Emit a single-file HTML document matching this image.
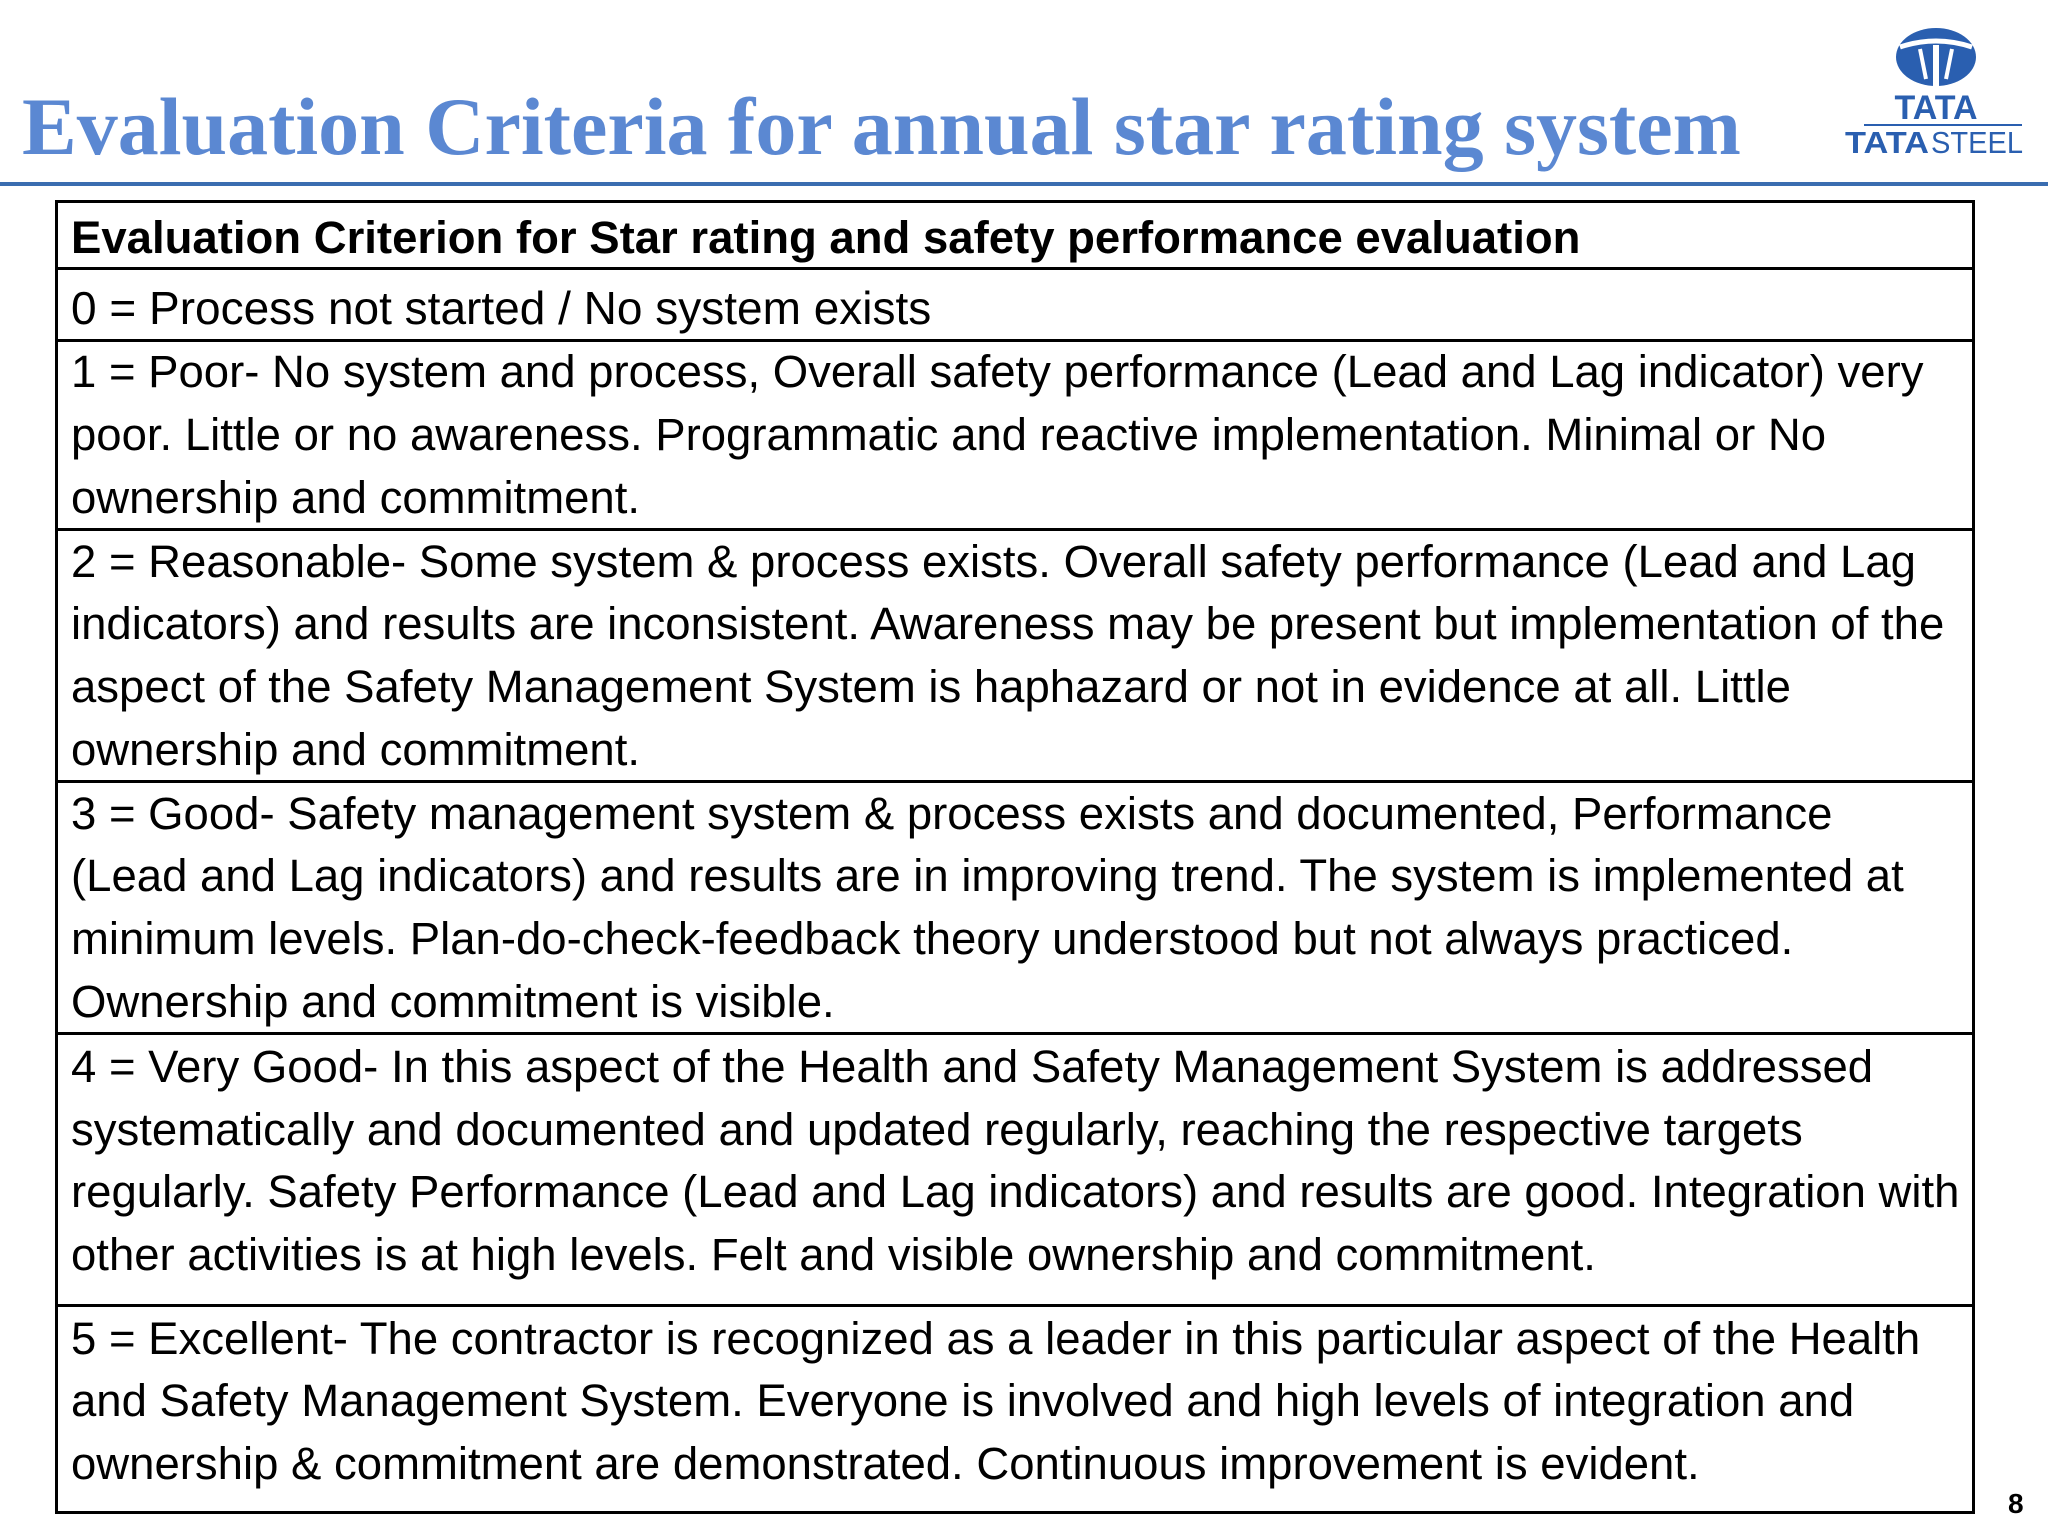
<!DOCTYPE html>
<html><head><meta charset="utf-8"><style>
body{margin:0;width:2048px;height:1536px;background:#fff;position:relative;overflow:hidden;font-family:"Liberation Sans",Arial,sans-serif;}
.t{position:absolute;left:71px;height:62px;line-height:62px;font-size:45.5px;white-space:nowrap;color:#000;}
.h{position:absolute;left:55px;width:1920px;height:3px;background:#000;}
</style></head><body>
<div style="position:absolute;left:22px;top:82px;font-family:'Liberation Serif',serif;font-weight:bold;font-size:82px;line-height:90px;color:#5b88d2;white-space:nowrap;">Evaluation Criteria for annual star rating system</div>
<div style="position:absolute;left:0;top:182px;width:2048px;height:4px;background:#3a6db0;"></div>
<svg style="position:absolute;left:1840px;top:25px" width="190" height="130" viewBox="0 0 190 130">
<ellipse cx="96" cy="32" rx="40" ry="29" fill="#2a5fb0"/>
<path d="M60 22 Q96 10 132 22" stroke="#fff" stroke-width="5" fill="none"/>
<rect x="93" y="20" width="6" height="42" fill="#fff"/>
<path d="M80 24 L86 54 M112 24 L106 54" stroke="#fff" stroke-width="4"/>
<text x="96" y="94" text-anchor="middle" font-family="Liberation Sans" font-weight="bold" font-size="34" fill="#2a5fb0">TATA</text>
<rect x="24" y="99" width="158" height="2" fill="#2a5fb0"/>
<text x="5" y="128" font-family="Liberation Sans" font-weight="bold" font-size="31" fill="#2a5fb0" textLength="84" lengthAdjust="spacingAndGlyphs">TATA</text>
<text x="91" y="128" font-family="Liberation Sans" font-size="31" fill="#2a5fb0" textLength="92" lengthAdjust="spacingAndGlyphs">STEEL</text>
</svg>
<div style="position:absolute;left:55px;top:200px;width:1914px;height:1308px;border:3px solid #000;"></div>
<div class="h" style="top:267px"></div>
<div class="h" style="top:339px"></div>
<div class="h" style="top:528px"></div>
<div class="h" style="top:780px"></div>
<div class="h" style="top:1032px"></div>
<div class="h" style="top:1304px"></div>
<div class="t" style="top:207px;font-weight:bold;">Evaluation Criterion for Star rating and safety performance evaluation</div>
<div class="t" style="top:277px;font-size:46px;">0 = Process not started / No system exists</div>
<div>
<div class="t" style="top:341px">1 = Poor- No system and process, Overall safety performance (Lead and Lag indicator) very</div>
<div class="t" style="top:404px">poor. Little or no awareness. Programmatic and reactive implementation. Minimal or No</div>
<div class="t" style="top:467px">ownership and commitment.</div>
</div>
<div>
<div class="t" style="top:531px">2 = Reasonable- Some system &amp; process exists. Overall safety performance (Lead and Lag</div>
<div class="t" style="top:593px">indicators) and results are inconsistent. Awareness may be present but implementation of the</div>
<div class="t" style="top:656px">aspect of the Safety Management System is haphazard or not in evidence at all. Little</div>
<div class="t" style="top:719px">ownership and commitment.</div>
</div>
<div>
<div class="t" style="top:783px">3 = Good- Safety management system &amp; process exists and documented, Performance</div>
<div class="t" style="top:845px">(Lead and Lag indicators) and results are in improving trend. The system is implemented at</div>
<div class="t" style="top:908px">minimum levels. Plan-do-check-feedback theory understood but not always practiced.</div>
<div class="t" style="top:971px">Ownership and commitment is visible.</div>
</div>
<div>
<div class="t" style="top:1036px">4 = Very Good- In this aspect of the Health and Safety Management System is addressed</div>
<div class="t" style="top:1099px">systematically and documented and updated regularly, reaching the respective targets</div>
<div class="t" style="top:1161px">regularly. Safety Performance (Lead and Lag indicators) and results are good. Integration with</div>
<div class="t" style="top:1224px">other activities is at high levels. Felt and visible ownership and commitment.</div>
</div>
<div>
<div class="t" style="top:1308px">5 = Excellent- The contractor is recognized as a leader in this particular aspect of the Health</div>
<div class="t" style="top:1370px">and Safety Management System. Everyone is involved and high levels of integration and</div>
<div class="t" style="top:1433px">ownership &amp; commitment are demonstrated. Continuous improvement is evident.</div>
</div>
<div style="position:absolute;left:2008px;top:1488px;font-weight:bold;font-size:28px;line-height:32px;">8</div>
</body></html>
